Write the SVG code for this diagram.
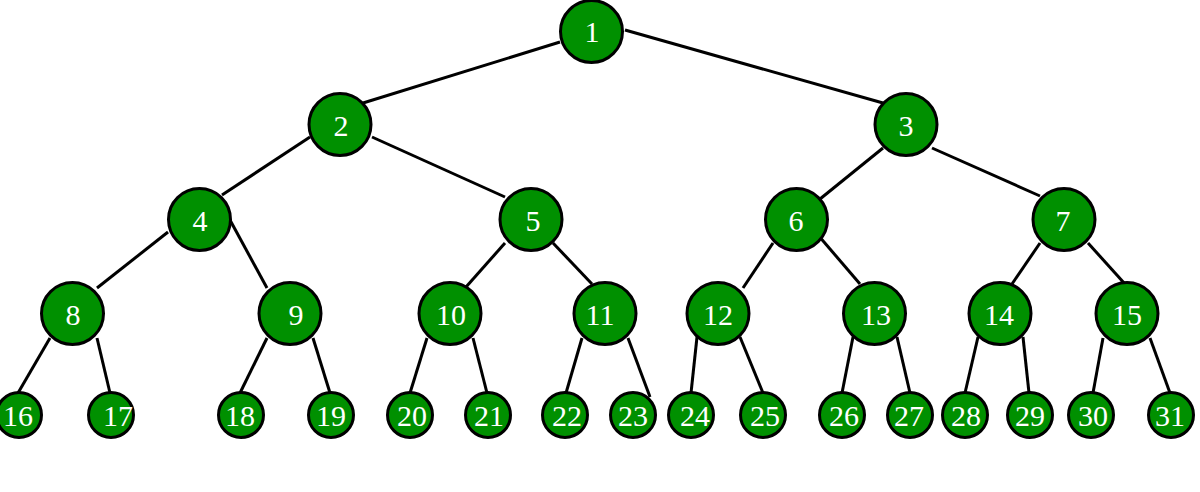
<svg xmlns="http://www.w3.org/2000/svg" width="1200" height="492" viewBox="0 0 1200 492">
<style>
.e{stroke:#000;stroke-width:3;fill:none}
.n circle{fill:#009000;stroke:#000;stroke-width:3}
.n text{fill:#fff;font-family:"Liberation Serif","DejaVu Serif",serif;font-size:30px;text-anchor:middle}
</style>
<rect width="1200" height="492" fill="#fff"/>
<g id="edges" class="e">
<line x1="560" y1="42" x2="363" y2="103"/>
<line x1="625" y1="30" x2="883" y2="103"/>
<line x1="310" y1="137" x2="222" y2="195"/>
<line x1="372" y1="137" x2="505" y2="197"/>
<line x1="883" y1="148" x2="820" y2="199"/>
<line x1="932" y1="148" x2="1040" y2="196"/>
<line x1="168" y1="232" x2="97" y2="288"/>
<line x1="230" y1="220" x2="267" y2="288"/>
<line x1="505" y1="243" x2="466" y2="287"/>
<line x1="553" y1="243" x2="592" y2="284"/>
<line x1="773" y1="243" x2="743" y2="288"/>
<line x1="818" y1="235" x2="860" y2="284"/>
<line x1="1040" y1="243" x2="1012" y2="284"/>
<line x1="1088" y1="243" x2="1125" y2="284"/>
<line x1="50" y1="338" x2="18" y2="393"/>
<line x1="97" y1="338" x2="110" y2="393"/>
<line x1="267" y1="338" x2="240" y2="393"/>
<line x1="313" y1="338" x2="330" y2="393"/>
<line x1="427" y1="338" x2="410" y2="393"/>
<line x1="473" y1="338" x2="487" y2="393"/>
<line x1="582" y1="338" x2="566" y2="393"/>
<line x1="628" y1="338" x2="650" y2="397"/>
<line x1="697" y1="337" x2="691" y2="393"/>
<line x1="740" y1="337" x2="763" y2="393"/>
<line x1="853" y1="337" x2="842" y2="393"/>
<line x1="897" y1="337" x2="910" y2="393"/>
<line x1="978" y1="337" x2="965" y2="393"/>
<line x1="1023" y1="337" x2="1029" y2="393"/>
<line x1="1103" y1="338" x2="1093" y2="393"/>
<line x1="1150" y1="338" x2="1170" y2="393"/>
</g>
<g id="n1" class="n"><circle cx="591.5" cy="31.5" r="31"/><text x="592" y="42">1</text></g>
<g id="n2" class="n"><circle cx="340" cy="124.5" r="31"/><text x="341" y="136">2</text></g>
<g id="n3" class="n"><circle cx="906" cy="124.5" r="31"/><text x="906" y="136">3</text></g>
<g id="n4" class="n"><circle cx="199.5" cy="219.5" r="31"/><text x="200" y="231">4</text></g>
<g id="n5" class="n"><circle cx="531" cy="219.5" r="31"/><text x="533" y="231">5</text></g>
<g id="n6" class="n"><circle cx="796.5" cy="219.5" r="31"/><text x="796" y="231">6</text></g>
<g id="n7" class="n"><circle cx="1064" cy="219.5" r="31"/><text x="1063" y="231">7</text></g>
<g id="n8" class="n"><circle cx="72.5" cy="313.5" r="31"/><text x="73" y="325">8</text></g>
<g id="n9" class="n"><circle cx="290" cy="313.5" r="31"/><text x="296" y="325">9</text></g>
<g id="n10" class="n"><circle cx="450" cy="313.5" r="31"/><text x="451" y="325">10</text></g>
<g id="n11" class="n"><circle cx="605" cy="313.5" r="31"/><text x="600" y="325">11</text></g>
<g id="n12" class="n"><circle cx="718" cy="313.5" r="31"/><text x="718" y="325">12</text></g>
<g id="n13" class="n"><circle cx="874.5" cy="313.5" r="31"/><text x="876" y="325">13</text></g>
<g id="n14" class="n"><circle cx="1000" cy="313.5" r="31"/><text x="999" y="325">14</text></g>
<g id="n15" class="n"><circle cx="1127" cy="313.5" r="31"/><text x="1127" y="325">15</text></g>
<g id="n16" class="n"><circle cx="19" cy="415" r="22.5"/><text x="18" y="426">16</text></g>
<g id="n17" class="n"><circle cx="111" cy="415" r="22.5"/><text x="118" y="426">17</text></g>
<g id="n18" class="n"><circle cx="241" cy="415" r="22.5"/><text x="240" y="426">18</text></g>
<g id="n19" class="n"><circle cx="331" cy="415" r="22.5"/><text x="331" y="426">19</text></g>
<g id="n20" class="n"><circle cx="410" cy="415" r="22.5"/><text x="412" y="426">20</text></g>
<g id="n21" class="n"><circle cx="488" cy="415" r="22.5"/><text x="489" y="426">21</text></g>
<g id="n22" class="n"><circle cx="565" cy="415" r="22.5"/><text x="567" y="426">22</text></g>
<g id="n23" class="n"><circle cx="633" cy="415" r="22.5"/><text x="633" y="426">23</text></g>
<g id="n24" class="n"><circle cx="691" cy="415" r="22.5"/><text x="695" y="426">24</text></g>
<g id="n25" class="n"><circle cx="763" cy="415" r="22.5"/><text x="765" y="426">25</text></g>
<g id="n26" class="n"><circle cx="842" cy="415" r="22.5"/><text x="844" y="426">26</text></g>
<g id="n27" class="n"><circle cx="910" cy="415" r="22.5"/><text x="909" y="426">27</text></g>
<g id="n28" class="n"><circle cx="965" cy="415" r="22.5"/><text x="966" y="426">28</text></g>
<g id="n29" class="n"><circle cx="1030" cy="415" r="22.5"/><text x="1030" y="426">29</text></g>
<g id="n30" class="n"><circle cx="1091" cy="415" r="22.5"/><text x="1093" y="426">30</text></g>
<g id="n31" class="n"><circle cx="1171" cy="415" r="22.5"/><text x="1170" y="426">31</text></g>
</svg>
